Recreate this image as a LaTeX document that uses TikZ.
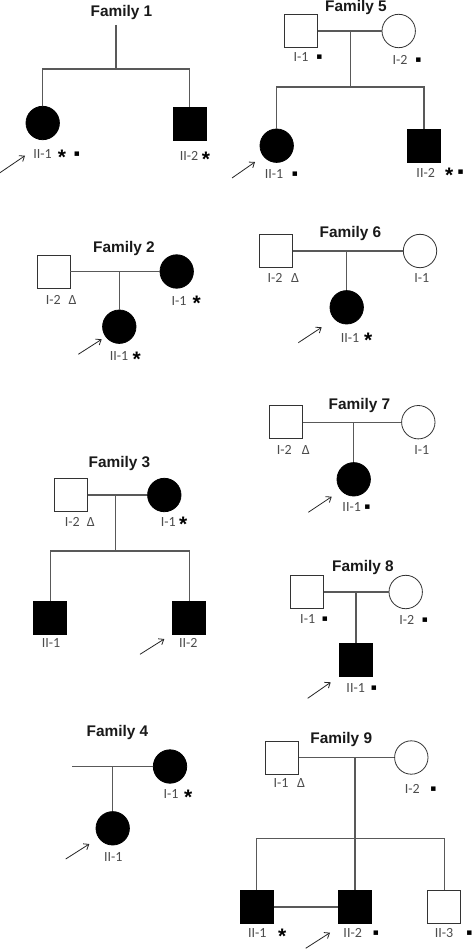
\documentclass[tikz,border=0pt]{standalone}
\usepackage{fontspec}
\setmainfont{Carlito}
\newfontfamily\ttlfont{Liberation Sans}
\newfontfamily\symfont{DejaVu Sans}
\usetikzlibrary{arrows.meta}
\newcommand\pedstar{{\fontsize{21}{21}\ttlfont\bfseries *}}
\newcommand\peddot{{\fontsize{9}{9}\symfont ▪}}
\tikzset{
  ind/.style={inner sep=0pt, draw=black!80, line width=0.8pt},
  male/.style={ind, rectangle, minimum size=33pt},
  female/.style={ind, circle, minimum size=33.4pt},
  aff/.style={fill=black, draw=black},
  unaff/.style={fill=white},
  rel/.style={draw=black!65, line width=1.1pt},
  ttl/.style={anchor=base, inner sep=0pt, font=\fontsize{15.4}{16}\ttlfont\bfseries, text=black!90},
  lbl/.style={inner sep=0pt, font=\fontsize{14}{15}\selectfont, text=black!70},
  starn/.style={inner sep=0pt, text=black, yshift=-3pt},
  dotn/.style={inner sep=0pt, text=black},
  proband/.style={draw=black!85, line width=0.8pt, -{Straight Barb[length=4.5pt,width=7pt]}},
}
\begin{document}
\begin{tikzpicture}[x=1pt,y=-1pt]
\useasboundingbox[fill=white] (0,0) rectangle (474,950);

% ---------------- Family 1
\node[ttl] (t1) at (121.5,17) {Family 1};
\coordinate (f1top) at (116,25);
\coordinate (f1s) at (116,69);
\node[female,aff] (f1c1) at (42.7,123) {};
\node[male,aff] (f1c2) at (189.5,123.5) {};
\draw[rel] (f1top) -- (f1s);
\draw[rel] (f1c1.north) |- (f1s) -| (f1c2.north);
\node[lbl] (f1l1) at (42.5,154) {II-1};
\node[starn] (f1l1s) at (62,154) {\pedstar};
\node[dotn] (f1l1d) at (77,154) {\peddot};
\node[lbl] (f1l2) at (189,156) {II-2};
\node[starn] (f1l2s) at (206,156) {\pedstar};
\coordinate (f1as) at (0,172.7);
\coordinate (f1ae) at (25,155.7);
\draw[proband] (f1as) -- (f1ae);

% ---------------- Family 5
\node[ttl] (t5) at (356,11.5) {Family 5};
\node[male,unaff] (f5a) at (301,31) {};
\node[female,unaff] (f5b) at (398.7,31) {};
\coordinate (f5j) at (350.3,31);
\coordinate (f5s) at (350.3,87);
\draw[rel] (f5a.east) -- (f5b.west);
\draw[rel] (f5j) -- (f5s);
\node[female,aff] (f5c1) at (276.7,145.7) {};
\node[male,aff] (f5c2) at (424,145.5) {};
\draw[rel] (f5c1.north) |- (f5s) -| (f5c2.north);
\node[lbl] (f5l1) at (301,57.3) {I-1};
\node[dotn] (f5l1d) at (319.3,57.3) {\peddot};
\node[lbl] (f5l2) at (400,60) {I-2};
\node[dotn] (f5l2d) at (418.3,60) {\peddot};
\node[lbl] (f5l3) at (274,174) {II-1};
\node[dotn] (f5l3d) at (295,174) {\peddot};
\node[lbl] (f5l4) at (425.7,172.7) {II-2};
\node[starn] (f5l4s) at (449.3,172.7) {\pedstar};
\node[dotn] (f5l4d) at (460.7,172.7) {\peddot};
\coordinate (f5as) at (232,178);
\coordinate (f5ae) at (255,162);
\draw[proband] (f5as) -- (f5ae);

% ---------------- Family 2
\node[ttl] (t2) at (124,252.7) {Family 2};
\node[male,unaff] (f2a) at (53.5,271.5) {};
\node[female,aff] (f2b) at (176.7,271.5) {};
\coordinate (f2j) at (119.3,271.5);
\node[female,aff] (f2c) at (119.3,326.7) {};
\draw[rel] (f2a.east) -- (f2b.west);
\draw[rel] (f2j) -- (f2c.north);
\node[lbl] (f2l1) at (53.3,300) {I-2};
\node[lbl] (f2l1m) at (72.7,300) {Δ};
\node[lbl] (f2l2) at (179,300.7) {I-1};
\node[starn] (f2l2s) at (196.7,300.7) {\pedstar};
\node[lbl] (f2l3) at (119,356) {II-1};
\node[starn] (f2l3s) at (136.7,356) {\pedstar};
\coordinate (f2as) at (78.3,354.3);
\coordinate (f2ae) at (101.7,339.3);
\draw[proband] (f2as) -- (f2ae);

% ---------------- Family 6
\node[ttl] (t6) at (350.5,237.3) {Family 6};
\node[male,unaff] (f6a) at (275.8,251) {};
\node[female,unaff] (f6b) at (420,251) {};
\coordinate (f6j) at (346.7,251);
\node[female,aff] (f6c) at (346.7,307.3) {};
\draw[rel] (f6a.east) -- (f6b.west);
\draw[rel] (f6j) -- (f6c.north);
\node[lbl] (f6l1) at (275,278.3) {I-2};
\node[lbl] (f6l1m) at (295,278.3) {Δ};
\node[lbl] (f6l2) at (421.7,278.3) {I-1};
\node[lbl] (f6l3) at (350,337.7) {II-1};
\node[starn] (f6l3s) at (368.3,337.7) {\pedstar};
\coordinate (f6as) at (298.3,342.7);
\coordinate (f6ae) at (321.7,327.3);
\draw[proband] (f6as) -- (f6ae);

% ---------------- Family 7
\node[ttl] (t7) at (359.5,409) {Family 7};
\node[male,unaff] (f7a) at (285.8,422.2) {};
\node[female,unaff] (f7b) at (418.3,422.2) {};
\coordinate (f7j) at (353.7,422.2);
\node[female,aff] (f7c) at (353.7,479.3) {};
\draw[rel] (f7a.east) -- (f7b.west);
\draw[rel] (f7j) -- (f7c.north);
\node[lbl] (f7l1) at (284.3,450) {I-2};
\node[lbl] (f7l1m) at (305.7,450) {Δ};
\node[lbl] (f7l2) at (421.7,450) {I-1};
\node[lbl] (f7l3) at (351.7,507.3) {II-1};
\node[dotn] (f7l3d) at (367.3,507.3) {\peddot};
\coordinate (f7as) at (308.3,512.3);
\coordinate (f7ae) at (331.7,496.7);
\draw[proband] (f7as) -- (f7ae);

% ---------------- Family 3
\node[ttl] (t3) at (119.5,467.7) {Family 3};
\node[male,unaff] (f3a) at (71.3,495) {};
\node[female,aff] (f3b) at (164.3,495) {};
\coordinate (f3j) at (115.7,495);
\coordinate (f3s) at (115.7,551);
\node[male,aff] (f3c1) at (50.3,617.5) {};
\node[male,aff] (f3c2) at (189.2,617.5) {};
\draw[rel] (f3a.east) -- (f3b.west);
\draw[rel] (f3j) -- (f3s);
\draw[rel] (f3c1.north) |- (f3s) -| (f3c2.north);
\node[lbl] (f3l1) at (72.3,521.7) {I-2};
\node[lbl] (f3l1m) at (90.7,521.7) {Δ};
\node[lbl] (f3l2) at (168.3,521.7) {I-1};
\node[starn] (f3l2s) at (183.3,521.7) {\pedstar};
\node[lbl] (f3l3) at (51,643.3) {II-1};
\node[lbl] (f3l4) at (188.3,643.3) {II-2};
\coordinate (f3as) at (140,654.3);
\coordinate (f3ae) at (164.3,639);
\draw[proband] (f3as) -- (f3ae);

% ---------------- Family 8
\node[ttl] (t8) at (363,571.7) {Family 8};
\node[male,unaff] (f8a) at (307.3,592) {};
\node[female,unaff] (f8b) at (405.7,592) {};
\coordinate (f8j) at (356,592);
\node[male,aff] (f8c) at (356,659.7) {};
\draw[rel] (f8a.east) -- (f8b.west);
\draw[rel] (f8j) -- (f8c.north);
\node[lbl] (f8l1) at (307.7,619) {I-1};
\node[dotn] (f8l1d) at (325,619) {\peddot};
\node[lbl] (f8l2) at (406.7,620) {I-2};
\node[dotn] (f8l2d) at (425,620) {\peddot};
\node[lbl] (f8l3) at (355.7,688.3) {II-1};
\node[dotn] (f8l3d) at (374,688.3) {\peddot};
\coordinate (f8as) at (307.7,698.3);
\coordinate (f8ae) at (330.7,682.3);
\draw[proband] (f8as) -- (f8ae);

% ---------------- Family 4
\node[ttl] (t4) at (117.5,736.7) {Family 4};
\coordinate (f4l) at (72.3,766.5);
\node[female,aff] (f4b) at (170,766.5) {};
\coordinate (f4j) at (112.7,766.5);
\node[female,aff] (f4c) at (112.7,828.3) {};
\draw[rel] (f4l) -- (f4b.west);
\draw[rel] (f4j) -- (f4c.north);
\node[lbl] (f4l1) at (171,794) {I-1};
\node[starn] (f4l1s) at (188.3,794) {\pedstar};
\node[lbl] (f4l2) at (113.3,856.7) {II-1};
\coordinate (f4as) at (65.7,859);
\coordinate (f4ae) at (89.3,844);
\draw[proband] (f4as) -- (f4ae);

% ---------------- Family 9
\node[ttl] (t9) at (341.3,743.3) {Family 9};
\node[male,unaff] (f9a) at (281.7,757.5) {};
\node[female,unaff] (f9b) at (411.3,757.5) {};
\coordinate (f9j) at (355,757.5);
\coordinate (f9s) at (355,838.3);
\node[male,aff] (f9c1) at (256.7,907) {};
\node[male,aff] (f9c2) at (355,907) {};
\node[male,unaff] (f9c3) at (444.2,907) {};
\draw[rel] (f9a.east) -- (f9b.west);
\draw[rel] (f9j) -- (f9c2.north);
\draw[rel] (f9c1.north) |- (f9s) -| (f9c3.north);
\draw[rel] (f9c1.east) -- (f9c2.west);
\node[lbl] (f9l1) at (281,783.3) {I-1};
\node[lbl] (f9l1m) at (301,783.3) {Δ};
\node[lbl] (f9l2) at (412.3,789.3) {I-2};
\node[dotn] (f9l2d) at (433.3,789.3) {\peddot};
\node[lbl] (f9l3) at (257.3,933.3) {II-1};
\node[starn] (f9l3s) at (282.3,933.3) {\pedstar};
\node[lbl] (f9l4) at (352.7,933.3) {II-2};
\node[dotn] (f9l4d) at (376,933.3) {\peddot};
\node[lbl] (f9l5) at (444,933.3) {II-3};
\node[dotn] (f9l5d) at (469.3,933.3) {\peddot};
\coordinate (f9as) at (305.7,948.3);
\coordinate (f9ae) at (330,932.7);
\draw[proband] (f9as) -- (f9ae);
\end{tikzpicture}
\end{document}
